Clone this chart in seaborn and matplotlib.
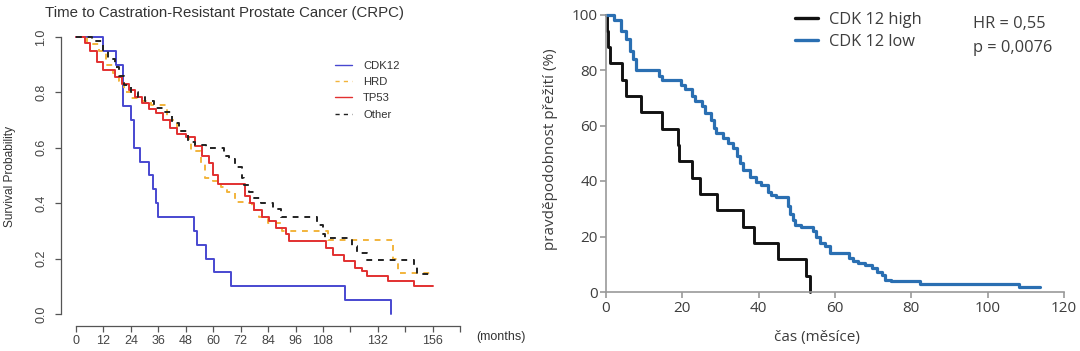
import matplotlib
matplotlib.use("Agg")
import matplotlib.pyplot as plt
import seaborn as sns
import pandas as pd

sns.set_theme(style="white")
plt.rcParams['font.family'] = ['Liberation Sans', 'DejaVu Sans']

# ---------------- Left panel data (months, survival probability) ----------------
cdk12_t = [0, 12, 17.5, 20.5, 24, 25.5, 28, 32, 33.7, 34.8, 36, 51.6, 53, 57, 60.4, 67.6, 117.6, 137.6]
cdk12_s = [1.0, .95, .90, .75, .70, .60, .55, .50, .45, .40, .35, .30, .25, .20, .15, .10, .05, 0.0]

hrd_t = [0, 5, 10, 13, 16, 19, 21, 24, 29, 33, 40, 44, 49, 50.5, 54.5, 56.5, 60, 63.5, 66, 69.5,
         74, 77, 80, 84, 90, 110, 138.6, 141, 156]
hrd_s = [1.0, .975, .95, .90, .87, .84, .80, .78, .77, .755, .70, .66, .63, .59, .545, .49, .48, .46, .44, .405,
         .40, .375, .35, .33, .298, .266, .20, .148, .148]

tp53_t = [0, 4, 6, 9, 12, 17, 20, 23, 26, 29, 32, 35, 38, 41, 44, 48, 52, 55, 58, 60,
          62, 74, 76, 78, 81.5, 84.5, 87.5, 92, 93, 109.3, 112.3, 117, 122, 125, 127.4, 136.4, 147.7, 156]
tp53_s = [1.0, .98, .95, .91, .88, .855, .83, .81, .785, .76, .74, .725, .70, .67, .65, .64, .605, .57, .545, .50,
          .47, .425, .40, .375, .35, .335, .31, .29, .262, .238, .214, .19, .166, .154, .136, .118, .102, .102]

other_t = [0, 7, 12, 14, 17, 19, 21, 24, 27, 30, 34, 38, 42, 45, 49, 52, 57, 64.5, 67, 69.5,
           72.5, 73.5, 75.5, 78, 81, 86, 89.6, 105.5, 108, 109, 120.6, 122.9, 127.4, 147.7, 149, 156]
other_s = [1.0, .985, .95, .92, .89, .86, .825, .80, .785, .77, .745, .73, .69, .66, .62, .61, .60, .57, .56, .53,
           .49, .465, .44, .42, .40, .38, .35, .32, .29, .275, .245, .22, .196, .17, .146, .146]

left_xticks = [0, 12, 24, 36, 48, 60, 72, 84, 96, 108, 120, 132, 144, 156, 168]
left_xticklabels = ["0", "12", "24", "36", "48", "60", "72", "84", "96", "108", "", "132", "", "156", ""]
left_yticks = [0.0, 0.2, 0.4, 0.6, 0.8, 1.0]
left_yticklabels = ["0.0", "0.2", "0.4", "0.6", "0.8", "1.0"]

# ---------------- Right panel data (months, survival %) ----------------
high_t = [0, 0.3, 0.6, 1.0, 4.3, 5.2, 9.3, 14.7, 18.8, 19.2, 22.4, 24.7, 29.0, 35.8, 38.9, 45.1, 52.4, 53.5]
high_s = [100, 94.1, 88.2, 82.4, 76.5, 70.6, 64.7, 58.8, 52.9, 47.1, 41.2, 35.3, 29.4, 23.5, 17.6, 11.8, 5.9, 0]

low_t = [0, 2.0, 3.8, 5.2, 6.3, 7.0, 7.9, 13.8, 14.7, 19.7, 20.6, 22.4, 23.3, 25.1, 26.0, 27.4, 28.3,
         28.8, 30.6, 31.9, 33.3, 34.2, 35.1, 36.0, 37.8, 39.2, 40.6, 42.4, 43.3, 44.6, 47.6, 48.3, 49.0,
         49.6, 51.0, 54.2, 55.1, 56.0, 57.4, 58.7, 63.7, 64.6, 66.0, 67.8, 69.6, 71.0, 72.3, 73.2, 74.6,
         82.3, 108.2, 113.6]
low_s = [100, 98, 94, 91, 87, 84, 80, 78, 76.5, 74.7, 73, 70.5, 68.7, 67, 64.5, 62, 59,
         57.3, 55.5, 53.7, 51.9, 48.9, 46.4, 44, 41.6, 39.8, 38.6, 36.2, 35.0, 34.4, 31, 28, 26,
         24.2, 23.5, 22, 20, 17.6, 16.4, 14, 12.2, 11, 10.3, 9.7, 8.5, 7.3, 6.1, 4.3, 4.0,
         2.9, 1.7, 1.7]

right_xticks = [0, 20, 40, 60, 80, 100, 120]
right_yticks = [0, 20, 40, 60, 80, 100]

W, H = 1080, 351
fig = plt.figure(figsize=(W / 100, H / 100), dpi=100)
fig.patch.set_facecolor("white")


def px_axes(left, right, top, bottom):
    return fig.add_axes([left / W, 1 - bottom / H, (right - left) / W, (bottom - top) / H])


# ======================= LEFT PANEL =======================
axL = px_axes(61, 470, 30, 326)
axL.set_facecolor("white")
l_col = "#444444"
series_left = [
    ("CDK12", cdk12_t, cdk12_s, "#4848d0", "-"),
    ("HRD", hrd_t, hrd_s, "#f2b43c", (0, (3, 3))),
    ("TP53", tp53_t, tp53_s, "#e23030", "-"),
    ("Other", other_t, other_s, "#222222", (0, (3, 3))),
]
for name, t, s, col, ls in series_left:
    df = pd.DataFrame({"t": t, "s": s})
    sns.lineplot(data=df, x="t", y="s", ax=axL, drawstyle="steps-post", estimator=None,
                 sort=False, color=col, linestyle=ls, linewidth=1.4, label=name)

axL.set_xlim((61 - 76) / 2.287, (470 - 76) / 2.287)
axL.set_ylim(-(326 - 314.0) / 277.0, (314.0 - 30) / 277.0)
for sp in ["top", "right"]:
    axL.spines[sp].set_visible(False)
for sp in ["left", "bottom"]:
    axL.spines[sp].set_color("#555555")
    axL.spines[sp].set_linewidth(0.9)
axL.spines["bottom"].set_bounds(0, 168)
axL.spines["left"].set_bounds(0, 1)
axL.set_xticks(left_xticks)
axL.set_xticklabels(left_xticklabels)
axL.set_yticks(left_yticks)
axL.set_yticklabels(left_yticklabels, rotation=90, va="center")
axL.tick_params(axis="both", which="major", direction="out", length=4, width=0.9,
                color="#555555", labelsize=9, labelcolor=l_col, bottom=True, left=True)
axL.tick_params(axis="x", pad=2.5)
axL.tick_params(axis="y", pad=6)
axL.set_xlabel("")
axL.set_ylabel("")
axL.grid(False)

fig.text(44.8 / W, 1 - 13 / H, "Time to Castration-Resistant Prostate Cancer (CRPC)",
         fontsize=10.8, color="#333333", ha="left", va="center")
fig.text(10.5 / W, 1 - 176 / H, "Survival Probability", rotation=90, fontsize=8.6,
         color="#333333", ha="center", va="center")
fig.text(501 / W, 1 - 337 / H, "(months)", fontsize=9, color="#333333", ha="center", va="center")

legL = axL.legend(loc="upper left", bbox_to_anchor=(335 / W, 1 - 61 / H), bbox_transform=fig.transFigure,
                  frameon=False, fontsize=8.1, handlelength=1.5, handletextpad=1.0,
                  labelspacing=0.55, borderpad=0, borderaxespad=0)
for txt in legL.get_texts():
    txt.set_color("#333333")
for ln in legL.get_lines():
    ln.set_linewidth(1.0)

# ======================= RIGHT PANEL =======================
axR = px_axes(606, 1072, 8, 292)
axR.set_facecolor("white")
rfont = ['Open Sans', 'DejaVu Sans']
r_col = "#3d3d3d"
df_high = pd.DataFrame({"t": high_t, "s": high_s})
df_low = pd.DataFrame({"t": low_t, "s": low_s})
sns.lineplot(data=df_high, x="t", y="s", ax=axR, drawstyle="steps-post", estimator=None, sort=False,
             color="#111111", linewidth=2.1, label="CDK 12 high")
sns.lineplot(data=df_low, x="t", y="s", ax=axR, drawstyle="steps-post", estimator=None, sort=False,
             color="#2a6fb2", linewidth=2.3, label="CDK 12 low")
for ln in axR.get_lines():
    ln.set_clip_on(False)

px_per_month = 3.817
px_per_unit = (292 - 14.5) / 100
axR.set_xlim(0, (1072 - 606) / px_per_month)
axR.set_ylim(0, (292 - 8) / px_per_unit)
for sp in ["top", "right"]:
    axR.spines[sp].set_visible(False)
for sp in ["left", "bottom"]:
    axR.spines[sp].set_color("#9a9a9a")
    axR.spines[sp].set_linewidth(1.2)
axR.spines["bottom"].set_bounds(0, 120)
axR.spines["left"].set_bounds(0, 100)
axR.set_xticks(right_xticks)
axR.set_yticks(right_yticks)
axR.set_xticklabels([str(v) for v in right_xticks], fontfamily=rfont)
axR.set_yticklabels([str(v) for v in right_yticks], fontfamily=rfont)
axR.tick_params(axis="both", which="major", direction="out", length=4.5, width=1.2,
                color="#9a9a9a", labelsize=11, labelcolor=r_col, bottom=True, left=True)
axR.tick_params(axis="x", pad=2)
axR.tick_params(axis="y", pad=1.5)
axR.set_xlabel("")
axR.set_ylabel("")
axR.grid(False)

fig.text(551 / W, 1 - 149 / H, "pravděpodobnost přežití (%)", rotation=90, fontsize=11,
         color=r_col, ha="center", va="center", family=rfont)
fig.text(817 / W, 1 - 338 / H, "čas (měsíce)", fontsize=11, color=r_col, ha="center", va="center",
         family=rfont)

legR = axR.legend(loc="upper left", bbox_to_anchor=(795 / W, 1 - 12 / H), bbox_transform=fig.transFigure,
                  frameon=False, prop={"family": rfont, "size": 11.8}, handlelength=1.4,
                  handletextpad=0.7, labelspacing=0.35, borderpad=0, borderaxespad=0)
for txt in legR.get_texts():
    txt.set_color(r_col)
for ln in legR.get_lines():
    ln.set_linewidth(2.4)

fig.text(973 / W, 1 - 23.5 / H, "HR = 0,55", fontsize=11.8, color=r_col, ha="left", va="center", family=rfont)
fig.text(973 / W, 1 - 48 / H, "p = 0,0076", fontsize=11.8, color=r_col, ha="left", va="center", family=rfont)

fig.savefig("out.png", dpi=100, facecolor="white")
